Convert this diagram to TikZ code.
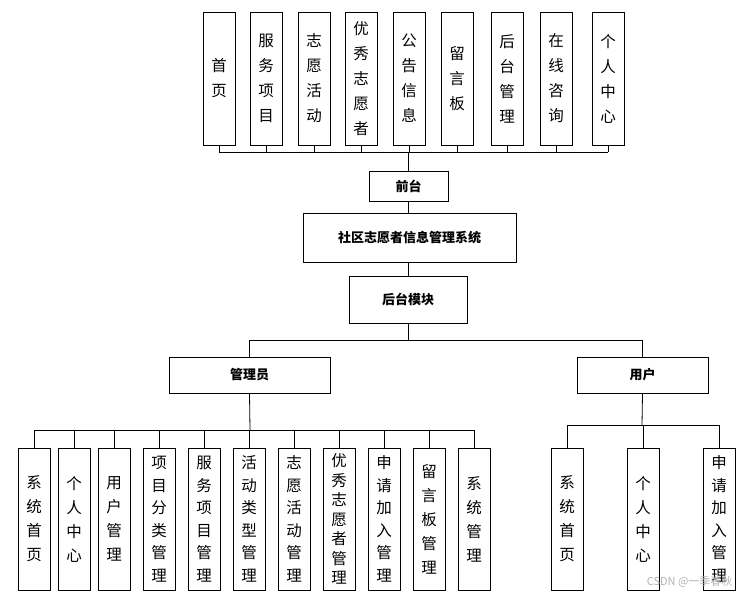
\documentclass[tikz,border=0pt]{standalone}
\usepackage{fontspec}
\newfontfamily\cjk{Noto Sans CJK SC}
\begin{document}
\begin{tikzpicture}[x=1pt,y=-1pt,
  vbox/.style={draw,line width=0.8pt,minimum width=32pt,align=center,font=\cjk\fontsize{15.5}{25}\selectfont,inner sep=0pt},
  hbox/.style={draw,line width=0.8pt,font=\cjk\bfseries\fontsize{13}{15}\selectfont,inner sep=0pt},
  ln/.style={line width=0.8pt}]
\useasboundingbox (0,0) rectangle (752,601);
% top
\foreach \n/\x/\t in {t1/219/首\\页, t2/266/服\\务\\项\\目, t3/314/志\\愿\\活\\动, t4/361/优\\秀\\志\\愿\\者, t5/409/公\\告\\信\\息, t6/457/留\\言\\板, t7/507/后\\台\\管\\理, t8/556/在\\线\\咨\\询, t9/608/个\\人\\中\\心}
  \node[vbox,minimum height=133pt] (\n) at (\x,78.5) {\t};
\node[hbox,minimum width=79pt,minimum height=30pt] (qt) at (408.5,186) {前台};
\node[hbox,minimum width=213pt,minimum height=49pt] (sys) at (409.5,237.5) {社区志愿者信息管理系统};
\node[hbox,minimum width=118pt,minimum height=47pt] (ht) at (408,299.5) {后台模块};
\node[hbox,minimum width=161pt,minimum height=36pt] (gly) at (249.5,375) {管理员};
\node[hbox,minimum width=131pt,minimum height=36pt] (yh) at (642.5,375) {用户};
\coordinate (b1) at (408,152);
\foreach \n in {t1,t2,t3,t4,t5,t6,t7,t8,t9} \draw[ln] (\n.south) -- (\n.south |- b1);
\draw[ln] (t1.south |- b1) -- (t9.south |- b1);
\draw[ln] (qt.north |- b1) -- (qt.north);
\draw[ln] (qt.south) -- (qt.south |- sys.north);
\draw[ln] (ht.north |- sys.south) -- (ht.north);
\coordinate (b2) at (408,340);
\draw[ln] (ht.south) -- (b2);
\draw[ln] (gly.north |- b2) -- (yh.north |- b2);
\draw[ln] (gly.north |- b2) -- (gly.north);
\draw[ln] (yh.north |- b2) -- (yh.north);
% bottom left
\foreach \n/\x/\t/\s in {l1/34/系\\统\\首\\页/24, l2/74/个\\人\\中\\心/24, l3/114/用\\户\\管\\理/24, l4/159/项\\目\\分\\类\\管\\理/22.5, l5/204/服\\务\\项\\目\\管\\理/22.5, l6/249/活\\动\\类\\型\\管\\理/22.5, l7/294/志\\愿\\活\\动\\管\\理/22.5, l8/339/优\\秀\\志\\愿\\者\\管\\理/19.5, l9/384/申\\请\\加\\入\\管\\理/22.5, l10/429/留\\言\\板\\管\\理/24, l11/474/系\\统\\管\\理/24}
  \node[vbox,minimum height=142pt,font=\cjk\fontsize{15.5}{\s}\selectfont] (\n) at (\x,519) {\t};
\coordinate (b3) at (250,430);
\draw[ln] (gly.south) -- (b3);
\draw[ln] (l1.north |- b3) -- (l11.north |- b3);
\foreach \n in {l1,l2,l3,l4,l5,l6,l7,l8,l9,l10,l11} \draw[ln] (\n.north |- b3) -- (\n.north);
% bottom right
\foreach \n/\x/\t/\s in {r1/567/系\\统\\首\\页/24, r2/643/个\\人\\中\\心/24, r3/719/申\\请\\加\\入\\管\\理/22.5}
  \node[vbox,minimum height=142pt,font=\cjk\fontsize{15.5}{\s}\selectfont] (\n) at (\x,519) {\t};
\coordinate (b4) at (642,425);
\draw[ln] (yh.south) -- (b4);
\draw[ln] (r1.north |- b4) -- (r3.north |- b4);
\foreach \n in {r1,r2,r3} \draw[ln] (\n.north |- b4) -- (\n.north);
\node[font=\cjk\fontsize{11}{13}\selectfont,text=gray!60,anchor=east] (wm) at (736,582) {CSDN @一季春秋};
\end{tikzpicture}
\end{document}
